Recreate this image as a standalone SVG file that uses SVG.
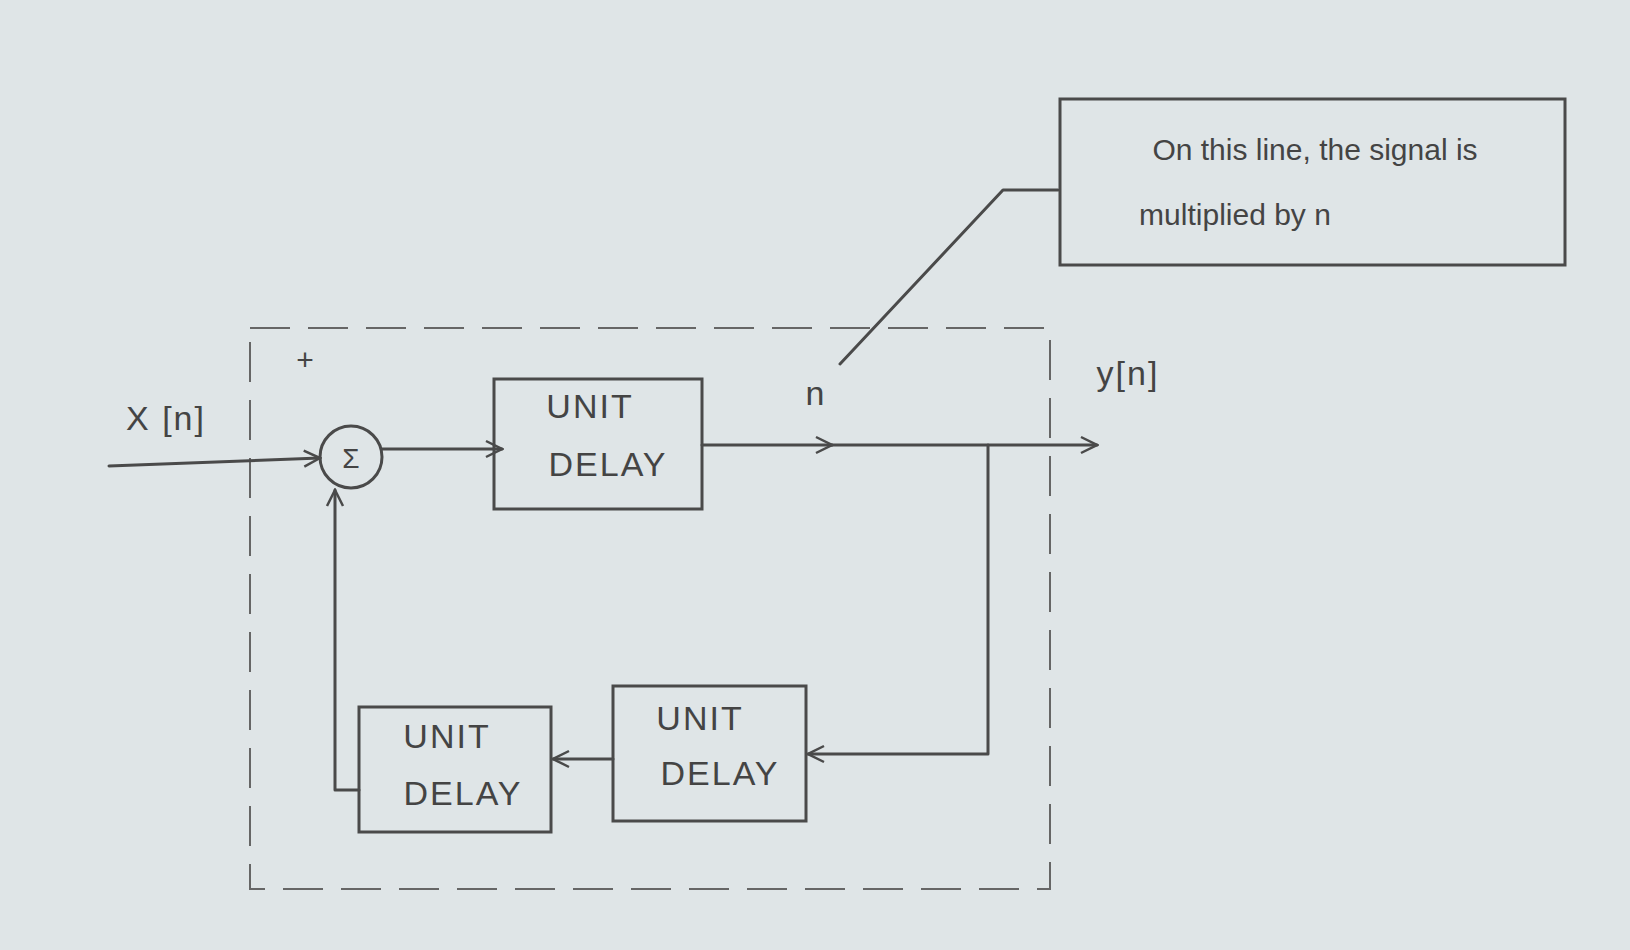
<svg xmlns="http://www.w3.org/2000/svg" width="1630" height="950" viewBox="0 0 1630 950">
<defs>
<style>
.l{fill:none;stroke:#4a4a4a;stroke-width:3;stroke-linecap:round;stroke-linejoin:round}
.d{fill:none;stroke:#666;stroke-width:2;stroke-dasharray:40 18}
.b{fill:none;stroke:#4a4a4a;stroke-width:3}
text{font-family:"Liberation Sans",sans-serif;fill:#444;text-anchor:middle}
.t{font-size:34px;letter-spacing:2px}
.s{font-size:30px}
</style>
<marker id="a" viewBox="0 0 20 20" refX="18" refY="10" markerWidth="20" markerHeight="20" markerUnits="userSpaceOnUse" orient="auto"><path d="M2,2 L18,10 L2,18" fill="none" stroke="#4a4a4a" stroke-width="2.5"/></marker>
</defs>
<rect width="1630" height="950" fill="#dfe5e7"/>
<rect x="250" y="328" width="800" height="561" class="d"/>
<g id="connectors">
<line x1="109" y1="466" x2="320" y2="458" class="l" marker-end="url(#a)"/>
<line x1="382" y1="449" x2="502" y2="449" class="l" marker-end="url(#a)"/>
<line x1="702" y1="445" x2="832" y2="445" class="l" marker-end="url(#a)"/>
<line x1="832" y1="445" x2="1097" y2="445" class="l" marker-end="url(#a)"/>
<polyline points="988,445 988,754 808,754" class="l" marker-end="url(#a)"/>
<line x1="613" y1="759" x2="553" y2="759" class="l" marker-end="url(#a)"/>
<polyline points="359,790 335,790 335,490" class="l" marker-end="url(#a)"/>
<polyline points="1058,190 1003,190 840,364" class="l"/>
</g>
<g id="input"><text x="166" y="430" class="t">X [n]</text></g>
<g id="plus"><text x="305" y="370" class="s">+</text></g>
<g id="sum"><circle cx="351" cy="457" r="31" class="b"/><text x="351" y="468" font-size="28">Σ</text></g>
<g id="delay1"><rect x="494" y="379" width="208" height="130" class="b"/><text x="590" y="418" class="t">UNIT</text><text x="608" y="476" class="t">DELAY</text></g>
<g id="n"><text x="816" y="405" class="t">n</text></g>
<g id="output"><text x="1128" y="385" class="t">y[n]</text></g>
<g id="delay2"><rect x="613" y="686" width="193" height="135" class="b"/><text x="700" y="730" class="t">UNIT</text><text x="720" y="785" class="t">DELAY</text></g>
<g id="delay3"><rect x="359" y="707" width="192" height="125" class="b"/><text x="447" y="748" class="t">UNIT</text><text x="463" y="805" class="t">DELAY</text></g>
<g id="note"><rect x="1060" y="99" width="505" height="166" class="b"/><text x="1315" y="160" class="s">On this line, the signal is</text><text x="1235" y="225" class="s">multiplied by n</text></g>
</svg>
